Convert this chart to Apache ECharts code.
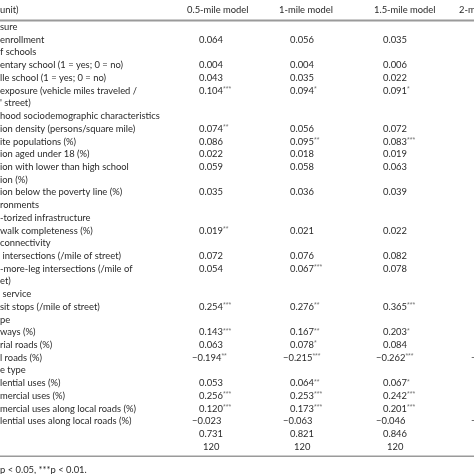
<!DOCTYPE html>
<html><head><meta charset="utf-8">
<script src="https://cdn.jsdelivr.net/npm/echarts@6/dist/echarts.min.js"></script>
<style>html,body{margin:0;padding:0;background:#fff}#c{width:474px;height:474px}</style>
</head><body><div id="c"></div>
<script>
const headers = ["unit)", "0.5-mile model", "1-mile model", "1.5-mile model", "2-mile model"];
const labels = ["sure","enrollment","f schools","entary school (1 = yes; 0 = no)","lle school (1 = yes; 0 = no)",
"exposure (vehicle miles traveled /","' street)","hood sociodemographic characteristics","ion density (persons/square mile)",
"ite populations (%)","ion aged under 18 (%)","ion with lower than high school","ion (%)","ion below the poverty line (%)",
"ronments","-torized infrastructure","walk completeness (%)","connectivity"," intersections (/mile of street)",
"-more-leg intersections (/mile of","et)"," service","sit stops (/mile of street)","pe","ways (%)","rial roads (%)",
"l roads (%)","e type","lential uses (%)","mercial uses (%)","mercial uses along local roads (%)",
"lential uses along local roads (%)","",""];
const m05 = ["","0.064","","0.004","0.043","0.104|***","","","0.074|**","0.086","0.022","0.059","","0.035","","","0.019|**","",
"0.072","0.054","","","0.254|***","","0.143|***","0.063","−0.194|**","","0.053","0.256|***","0.120|***","−0.023","0.731","120"];
const m1 = ["","0.056","","0.004","0.035","0.094|*","","","0.056","0.095|**","0.018","0.058","","0.036","","","0.021","",
"0.076","0.067|***","","","0.276|**","","0.167|**","0.078|*","−0.215|***","","0.064|**","0.253|***","0.173|***","−0.063","0.821","120"];
const m15 = ["","0.035","","0.006","0.022","0.091|*","","","0.072","0.083|***","0.019","0.063","","0.039","","","0.022","",
"0.082","0.078","","","0.365|***","","0.203|*","0.084","−0.262|***","","0.067|*","0.242|***","0.201|***","−0.046","0.846","120"];
const m2 = ["","0.030","","0.005","0.020","0.088","","","0.070","0.080","0.019","0.060","","0.040","","","0.023","",
"0.085","0.081","","","0.380","","0.210","0.090","−0.280","","0.070","0.240","0.210","−0.040","0.850","120"];
const footnote = "p < 0.05, ***p < 0.01.";

const font = "Lato, 'Open Sans', sans-serif";
const fs = 9.4, col = "#2a2a2a";
const colX = [199, 290, 383, 478];
const y0 = 27, dy = 12.72;
const g = [];
function txt(x, y, s, align) {
  g.push({type:'text', x, y, style:{text:s, font:`${fs}px ${font}`, fill:col, textVerticalAlign:'middle', textAlign:align||'left'}});
}
function val(x, y, s) {
  if (!s) return;
  let [v, st] = s.split('|');
  const neg = v.startsWith('−');
  const xx = (v === '120' ? x + 4 : x) - (neg ? 7 : 0);
  g.push({type:'text', x: xx, y, style:{text: v + (st ? '{s|' + st + '}' : ''), font:`${fs}px ${font}`, fill:col,
    textVerticalAlign:'middle', rich:{s:{fontSize:7, fill:'#777', verticalAlign:'top', padding:[0,0,3,0]}}}});
}
txt(0, 10, headers[0]);
[187, 279, 374, 459].forEach((x, i) => txt(x, 10, headers[i+1]));
g.push({type:'rect', shape:{x:0,y:19.5,width:474,height:2}, style:{fill:'#9a9a9a'}});
labels.forEach((l, i) => {
  const y = y0 + i*dy;
  if (l) txt(0, y, l);
  [m05, m1, m15, m2].forEach((arr, k) => val(colX[k], y, arr[i]));
});
g.push({type:'rect', shape:{x:0,y:455.5,width:474,height:1.5}, style:{fill:'#9a9a9a'}});
txt(0, 470, footnote);
const chart = echarts.init(document.getElementById('c'));
chart.setOption({animation:false, graphic:g});
</script></body></html>
